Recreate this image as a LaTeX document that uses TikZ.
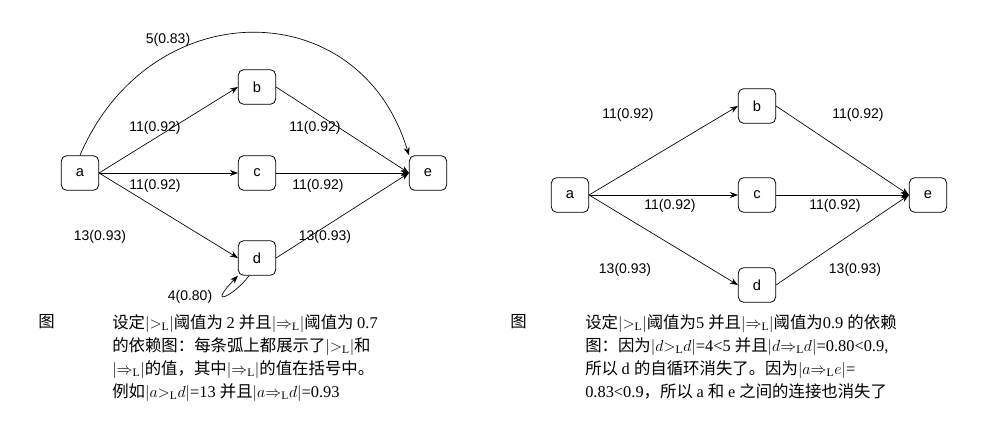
\documentclass[tikz,border=0pt]{standalone}
\usepackage{fontspec}
\setmainfont{Liberation Serif}
\newfontfamily\cjk{Noto Sans CJK SC}
\newfontfamily\lab{Liberation Sans}
\usetikzlibrary{arrows.meta}
\begin{document}
\begin{tikzpicture}[x=0.75pt,y=-0.75pt,
 box/.style={draw,rounded corners=4pt,minimum width=28pt,minimum height=26pt,font=\lab\fontsize{11}{12}\selectfont,line width=0.6pt},
 arr/.style={-{Stealth[length=6pt,width=4.5pt]},line width=0.5pt},
 lb/.style={font=\lab\fontsize{10.5}{12}\selectfont},
 captxt/.style={font=\fontsize{12.3}{17.3}\selectfont,anchor=north west,align=left,inner sep=0}]
\useasboundingbox (0,0) rectangle (1007,438);
\node[box] (a) at (80,173) {a};
\node[box] (b) at (257,87) {b};
\node[box] (c) at (257,173) {c};
\node[box] (d) at (257,258) {d};
\node[box] (e) at (428,173) {e};
\draw[arr] (a.east) -- (b.west);
\draw[arr] (a.east) -- (c.west);
\draw[arr] (a.east) -- (d.west);
\draw[arr] (b.east) -- (e.west);
\draw[arr] (c.east) -- (e.west);
\draw[arr] (d.east) -- (e.west);
\draw[arr] (a.north) .. controls (150,-8) and (360,-8) .. (e.north west);
\draw[arr] ([xshift=-6pt]d.south) .. controls (235,295) and (205,310) .. (d.south west);
\node[lb] (l1) at (168,40) {5(0.83)};
\node[lb] (l2) at (155,128) {11(0.92)};
\node[lb] (l3) at (315,128) {11(0.92)};
\node[lb] (l4) at (155,186) {11(0.92)};
\node[lb] (l5) at (318,186) {11(0.92)};
\node[lb] (l6) at (100,237) {13(0.93)};
\node[lb] (l7) at (325,237) {13(0.93)};
\node[lb] (l8) at (190,297) {4(0.80)};
\node[box] (A) at (570,195) {a};
\node[box] (B) at (757,106) {b};
\node[box] (C) at (757,195) {c};
\node[box] (D) at (757,285) {d};
\node[box] (E) at (928,195) {e};
\draw[arr] (A.east) -- (B.west);
\draw[arr] (A.east) -- (C.west);
\draw[arr] (A.east) -- (D.west);
\draw[arr] (B.east) -- (E.west);
\draw[arr] (C.east) -- (E.west);
\draw[arr] (D.east) -- (E.west);
\node[lb] (m1) at (628,115) {11(0.92)};
\node[lb] (m2) at (858,115) {11(0.92)};
\node[lb] (m3) at (670,206) {11(0.92)};
\node[lb] (m4) at (835,206) {11(0.92)};
\node[lb] (m5) at (625,270) {13(0.93)};
\node[lb] (m6) at (855,270) {13(0.93)};
\node[captxt] (f1) at (38,314) {\cjk 图};
\node[captxt] (t1) at (112,314) {\cjk 设定\rmfamily$|{>_{\mathrm L}}|$\cjk 阈值为 \rmfamily 2 \cjk 并且\rmfamily$|{\Rightarrow_{\mathrm L}}|$\cjk 阈值为 \rmfamily 0.7\\
\cjk 的依赖图：每条弧上都展示了\rmfamily$|{>_{\mathrm L}}|$\cjk 和\\
\rmfamily$|{\Rightarrow_{\mathrm L}}|$\cjk 的值，其中\rmfamily$|{\Rightarrow_{\mathrm L}}|$\cjk 的值在括号中。\\
\cjk 例如\rmfamily$|a{>_{\mathrm L}}d|$=13 \cjk 并且\rmfamily$|a{\Rightarrow_{\mathrm L}}d|$=0.93};
\node[captxt] (f2) at (510,314) {\cjk 图};
\node[captxt] (t2) at (585,314) {\cjk 设定\rmfamily$|{>_{\mathrm L}}|$\cjk 阈值为\rmfamily 5 \cjk 并且\rmfamily$|{\Rightarrow_{\mathrm L}}|$\cjk 阈值为\rmfamily 0.9 \cjk 的依赖\\
\cjk 图：因为\rmfamily$|d{>_{\mathrm L}}d|$=4<5 \cjk 并且\rmfamily$|d{\Rightarrow_{\mathrm L}}d|$=0.80<0.9,\\
\cjk 所以 \rmfamily d \cjk 的自循环消失了。因为\rmfamily$|a{\Rightarrow_{\mathrm L}}e|$=\\
\rmfamily 0.83<0.9\cjk ，所以 \rmfamily a \cjk 和 \rmfamily e \cjk 之间的连接也消失了};
\end{tikzpicture}
\end{document}
